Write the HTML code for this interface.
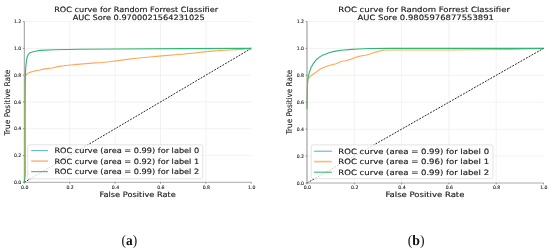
<!DOCTYPE html>
<html><head><meta charset="utf-8"><style>html,body{margin:0;padding:0;background:#fff;overflow:hidden}svg{display:block}</style></head>
<body>
<svg width="550" height="251" viewBox="0 0 550 251" text-rendering="geometricPrecision" font-family="'DejaVu Sans', 'Liberation Sans', sans-serif">
<rect width="550" height="251" fill="#fff"/>
<path d="M69.70,182.30V21.62 M115.10,182.30V21.62 M160.50,182.30V21.62 M205.90,182.30V21.62 M24.30,155.52H251.30 M24.30,128.74H251.30 M24.30,101.96H251.30 M24.30,75.18H251.30 M24.30,48.40H251.30 M24.30,21.62H251.30" stroke="#efefef" stroke-width="0.8" fill="none"/>
<path d="M24.30,182.30L251.30,48.40" stroke="#262626" stroke-width="1.0" stroke-dasharray="1.9 1.25" fill="none"/>
<path d="M24.30,182.30H251.30" stroke="#a0a0a0" stroke-width="0.9" fill="none"/>
<path d="M24.30,21.62V182.75" stroke="#9c9c9c" stroke-width="1.0" fill="none"/>
<path d="M24.30,182.30 L24.75,175.61 L24.75,115.35 L24.98,88.57 L25.44,77.19 L25.89,75.31 L27.02,73.84 L29.20,72.64 L32.70,71.50 L36.33,70.63 L39.96,69.96 L43.48,69.15 L47.00,68.62 L51.99,67.95 L59.03,66.34 L68.11,65.27 L77.19,64.33 L86.27,63.66 L95.35,62.86 L99.89,62.73 L108.97,61.79 L118.05,60.58 L127.13,59.38 L136.21,58.31 L149.83,56.97 L158.91,56.17 L167.99,55.36 L177.07,54.56 L180.93,54.43 L187.29,53.62 L194.55,52.95 L201.81,52.15 L205.45,51.61 L212.71,51.08 L219.97,50.54 L230.42,49.94 L240.63,49.34 L251.30,48.40" stroke="#fcaa58" stroke-width="1.1" fill="none" stroke-linejoin="round"/>
<path d="M24.30,182.30 L25.09,175.61 L25.09,115.35 L25.16,79.87 L25.66,68.49 L26.30,62.06 L26.57,59.92 L27.21,56.70 L28.39,54.43 L29.98,52.82 L32.40,52.02 L35.42,51.21 L39.96,50.41 L54.49,49.74 L79.92,49.20 L115.10,48.94 L183.20,48.67 L251.30,48.40" stroke="#30b572" stroke-width="1.1" fill="none" stroke-linejoin="round"/>
<path d="M24.30,182.30v1.4 M69.70,182.30v1.4 M115.10,182.30v1.4 M160.50,182.30v1.4 M205.90,182.30v1.4 M251.30,182.30v1.4 M24.30,182.30h-1.4 M24.30,155.52h-1.4 M24.30,128.74h-1.4 M24.30,101.96h-1.4 M24.30,75.18h-1.4 M24.30,48.40h-1.4 M24.30,21.62h-1.4" stroke="#555" stroke-width="0.6" fill="none"/>
<text x="24.70" y="188.50" font-size="4.6" text-anchor="middle" fill="#2a2a2a" stroke="#2a2a2a" stroke-width="0.12">0.0</text>
<text x="70.10" y="188.50" font-size="4.6" text-anchor="middle" fill="#2a2a2a" stroke="#2a2a2a" stroke-width="0.12">0.2</text>
<text x="115.50" y="188.50" font-size="4.6" text-anchor="middle" fill="#2a2a2a" stroke="#2a2a2a" stroke-width="0.12">0.4</text>
<text x="160.90" y="188.50" font-size="4.6" text-anchor="middle" fill="#2a2a2a" stroke="#2a2a2a" stroke-width="0.12">0.6</text>
<text x="206.30" y="188.50" font-size="4.6" text-anchor="middle" fill="#2a2a2a" stroke="#2a2a2a" stroke-width="0.12">0.8</text>
<text x="251.70" y="188.50" font-size="4.6" text-anchor="middle" fill="#2a2a2a" stroke="#2a2a2a" stroke-width="0.12">1.0</text>
<text x="21.30" y="183.90" font-size="4.6" text-anchor="end" fill="#2a2a2a" stroke="#2a2a2a" stroke-width="0.12">0.0</text>
<text x="21.30" y="157.12" font-size="4.6" text-anchor="end" fill="#2a2a2a" stroke="#2a2a2a" stroke-width="0.12">0.2</text>
<text x="21.30" y="130.34" font-size="4.6" text-anchor="end" fill="#2a2a2a" stroke="#2a2a2a" stroke-width="0.12">0.4</text>
<text x="21.30" y="103.56" font-size="4.6" text-anchor="end" fill="#2a2a2a" stroke="#2a2a2a" stroke-width="0.12">0.6</text>
<text x="21.30" y="76.78" font-size="4.6" text-anchor="end" fill="#2a2a2a" stroke="#2a2a2a" stroke-width="0.12">0.8</text>
<text x="21.30" y="50.00" font-size="4.6" text-anchor="end" fill="#2a2a2a" stroke="#2a2a2a" stroke-width="0.12">1.0</text>
<text x="21.30" y="23.22" font-size="4.6" text-anchor="end" fill="#2a2a2a" stroke="#2a2a2a" stroke-width="0.12">1.2</text>
<rect x="27.7" y="144.8" width="175.0" height="34.0" rx="1.5" fill="#fff" fill-opacity="0.8" stroke="#dcdcdc" stroke-width="0.8"/>
<path d="M31.2,150.60H47.9" stroke="#62b0dc" stroke-width="1.1"/>
<text x="54.40" y="153.20" font-size="7.3" textLength="144.80" lengthAdjust="spacingAndGlyphs" fill="#1a1a1a" stroke="#1a1a1a" stroke-width="0.15" >ROC curve (area = 0.99) for label 0</text>
<path d="M31.2,161.10H47.9" stroke="#fcbd82" stroke-width="1.7"/>
<text x="54.40" y="163.70" font-size="7.3" textLength="144.80" lengthAdjust="spacingAndGlyphs" fill="#1a1a1a" stroke="#1a1a1a" stroke-width="0.15" >ROC curve (area = 0.92) for label 1</text>
<path d="M31.2,171.60H47.9" stroke="#4cc07e" stroke-width="1.2"/>
<text x="54.40" y="174.20" font-size="7.3" textLength="144.80" lengthAdjust="spacingAndGlyphs" fill="#1a1a1a" stroke="#1a1a1a" stroke-width="0.15" >ROC curve (area = 0.99) for label 2</text>
<text x="54.20" y="11.55" font-size="7.3" textLength="163.89" lengthAdjust="spacingAndGlyphs" fill="#1a1a1a" stroke="#1a1a1a" stroke-width="0.15" >ROC curve for Random Forrest Classifier</text>
<text x="72.70" y="19.60" font-size="7.3" textLength="132.00" lengthAdjust="spacingAndGlyphs" fill="#1a1a1a" stroke="#1a1a1a" stroke-width="0.15" >AUC Sore 0.9700021564231025</text>
<text x="99.60" y="196.90" font-size="7.3" textLength="76.10" lengthAdjust="spacingAndGlyphs" fill="#1a1a1a" stroke="#1a1a1a" stroke-width="0.15" >False Positive Rate</text>
<text transform="translate(10.1,135.38) rotate(-90) scale(0.7384,0.7800) " x="0" y="0" font-size="10.0" fill="#1a1a1a" stroke="#1a1a1a" stroke-width="0.12">True Positive Rate</text>
<path d="M354.30,183.00V21.48 M401.60,183.00V21.48 M448.90,183.00V21.48 M496.20,183.00V21.48 M307.00,156.08H543.50 M307.00,129.16H543.50 M307.00,102.24H543.50 M307.00,75.32H543.50 M307.00,48.40H543.50 M307.00,21.48H543.50" stroke="#efefef" stroke-width="0.8" fill="none"/>
<path d="M307.00,108.97 L307.28,91.47 L307.47,83.40 L308.18,78.69 L309.84,76.67 L311.73,75.32 L315.99,72.22 L320.01,69.26 L324.03,67.24 L326.87,66.30 L331.60,64.82 L336.33,63.74 L341.06,61.46 L345.79,60.78 L351.94,58.90 L354.06,57.96 L358.08,56.61 L362.10,55.80 L365.89,55.20 L369.91,54.05 L373.93,52.57 L377.90,51.63 L381.97,50.42 L385.99,50.02 L448.90,50.02 L508.02,49.48 L543.50,48.40" stroke="#fcaa58" stroke-width="1.1" fill="none" stroke-linejoin="round"/>
<path d="M307.00,108.97 L307.28,91.47 L307.71,79.63 L308.66,74.92 L309.51,71.96 L310.78,68.05 L312.79,64.42 L314.80,61.59 L315.99,59.98 L318.82,57.55 L321.90,55.60 L325.80,54.05 L329.61,52.51 L334.43,51.36 L341.06,50.28 L351.94,49.34 L358.08,48.94 L369.91,48.53 L389.77,48.40 L543.50,48.40" stroke="#30b572" stroke-width="1.1" fill="none" stroke-linejoin="round"/>
<path d="M307.00,183.00L543.50,48.40" stroke="#262626" stroke-width="1.0" stroke-dasharray="1.9 1.25" fill="none"/>
<path d="M307.00,183.00H543.50" stroke="#a0a0a0" stroke-width="0.9" fill="none"/>
<path d="M307.00,21.48V183.45" stroke="#9c9c9c" stroke-width="1.15" fill="none"/>
<path d="M307.00,183.00v1.4 M354.30,183.00v1.4 M401.60,183.00v1.4 M448.90,183.00v1.4 M496.20,183.00v1.4 M543.50,183.00v1.4 M307.00,183.00h-1.4 M307.00,156.08h-1.4 M307.00,129.16h-1.4 M307.00,102.24h-1.4 M307.00,75.32h-1.4 M307.00,48.40h-1.4 M307.00,21.48h-1.4" stroke="#555" stroke-width="0.6" fill="none"/>
<text x="307.40" y="189.20" font-size="4.6" text-anchor="middle" fill="#2a2a2a" stroke="#2a2a2a" stroke-width="0.12">0.0</text>
<text x="354.70" y="189.20" font-size="4.6" text-anchor="middle" fill="#2a2a2a" stroke="#2a2a2a" stroke-width="0.12">0.2</text>
<text x="402.00" y="189.20" font-size="4.6" text-anchor="middle" fill="#2a2a2a" stroke="#2a2a2a" stroke-width="0.12">0.4</text>
<text x="449.30" y="189.20" font-size="4.6" text-anchor="middle" fill="#2a2a2a" stroke="#2a2a2a" stroke-width="0.12">0.6</text>
<text x="496.60" y="189.20" font-size="4.6" text-anchor="middle" fill="#2a2a2a" stroke="#2a2a2a" stroke-width="0.12">0.8</text>
<text x="543.90" y="189.20" font-size="4.6" text-anchor="middle" fill="#2a2a2a" stroke="#2a2a2a" stroke-width="0.12">1.0</text>
<text x="304.00" y="184.60" font-size="4.6" text-anchor="end" fill="#2a2a2a" stroke="#2a2a2a" stroke-width="0.12">0.0</text>
<text x="304.00" y="157.68" font-size="4.6" text-anchor="end" fill="#2a2a2a" stroke="#2a2a2a" stroke-width="0.12">0.2</text>
<text x="304.00" y="130.76" font-size="4.6" text-anchor="end" fill="#2a2a2a" stroke="#2a2a2a" stroke-width="0.12">0.4</text>
<text x="304.00" y="103.84" font-size="4.6" text-anchor="end" fill="#2a2a2a" stroke="#2a2a2a" stroke-width="0.12">0.6</text>
<text x="304.00" y="76.92" font-size="4.6" text-anchor="end" fill="#2a2a2a" stroke="#2a2a2a" stroke-width="0.12">0.8</text>
<text x="304.00" y="50.00" font-size="4.6" text-anchor="end" fill="#2a2a2a" stroke="#2a2a2a" stroke-width="0.12">1.0</text>
<text x="304.00" y="23.08" font-size="4.6" text-anchor="end" fill="#2a2a2a" stroke="#2a2a2a" stroke-width="0.12">1.2</text>
<rect x="311.3" y="144.9" width="181.59999999999997" height="33.69999999999999" rx="1.5" fill="#fff" fill-opacity="0.8" stroke="#dcdcdc" stroke-width="0.8"/>
<path d="M314,151.20H331.9" stroke="#62b0dc" stroke-width="1.1"/>
<text x="338.30" y="153.80" font-size="7.3" textLength="150.80" lengthAdjust="spacingAndGlyphs" fill="#1a1a1a" stroke="#1a1a1a" stroke-width="0.15" >ROC curve (area = 0.99) for label 0</text>
<path d="M314,161.60H331.9" stroke="#fcbd82" stroke-width="1.7"/>
<text x="338.30" y="164.20" font-size="7.3" textLength="150.80" lengthAdjust="spacingAndGlyphs" fill="#1a1a1a" stroke="#1a1a1a" stroke-width="0.15" >ROC curve (area = 0.96) for label 1</text>
<path d="M314,172.20H331.9" stroke="#4cc07e" stroke-width="1.2"/>
<text x="338.30" y="174.80" font-size="7.3" textLength="150.80" lengthAdjust="spacingAndGlyphs" fill="#1a1a1a" stroke="#1a1a1a" stroke-width="0.15" >ROC curve (area = 0.99) for label 2</text>
<text x="338.30" y="11.55" font-size="7.3" textLength="171.69" lengthAdjust="spacingAndGlyphs" fill="#1a1a1a" stroke="#1a1a1a" stroke-width="0.15" >ROC curve for Random Forrest Classifier</text>
<text x="357.50" y="19.60" font-size="7.3" textLength="136.50" lengthAdjust="spacingAndGlyphs" fill="#1a1a1a" stroke="#1a1a1a" stroke-width="0.15" >AUC Sore 0.9805976877553891</text>
<text x="385.50" y="197.30" font-size="7.3" textLength="78.90" lengthAdjust="spacingAndGlyphs" fill="#1a1a1a" stroke="#1a1a1a" stroke-width="0.15" >False Positive Rate</text>
<text transform="translate(292.3,134.28) rotate(-90) scale(0.7238,0.7800) " x="0" y="0" font-size="10.0" fill="#1a1a1a" stroke="#1a1a1a" stroke-width="0.12">True Positive Rate</text>
<text x="121.6" y="245.3" font-family="'Liberation Serif', serif" font-size="14.6" fill="#111" textLength="15.6" lengthAdjust="spacingAndGlyphs"><tspan>(</tspan><tspan font-weight="bold">a</tspan><tspan>)</tspan></text>
<text x="407.7" y="245.3" font-family="'Liberation Serif', serif" font-size="14.6" fill="#111" textLength="16.8" lengthAdjust="spacingAndGlyphs"><tspan>(</tspan><tspan font-weight="bold">b</tspan><tspan>)</tspan></text>
</svg>
</body></html>
